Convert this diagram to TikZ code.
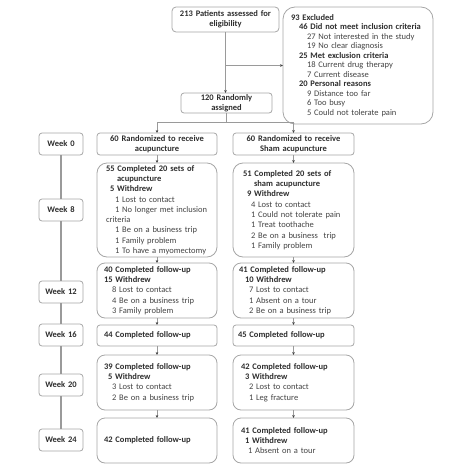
\documentclass[tikz,border=0pt]{standalone}
\usepackage{fontspec}
\setmainfont{Carlito}
\usetikzlibrary{arrows.meta}
\definecolor{bordc}{HTML}{A6A6A6}
\definecolor{linec}{HTML}{9A9A9A}
\definecolor{txtb}{HTML}{2E2E2E}
\definecolor{txtn}{HTML}{444444}
\newcommand{\bl}[1]{{\bfseries\color{txtb}#1}}
\newcommand{\ind}[1]{\hspace*{#1pt}}
\begin{document}
\begin{tikzpicture}[x=1pt,y=-1pt,
  base/.style={draw=bordc, line width=0.8pt, fill=white, inner ysep=1pt, text=txtn,
    font=\fontsize{8.5}{10.3}\selectfont, anchor=north west, outer sep=0pt},
  cbox/.style={base, align=left},
  tbox/.style={base, align=center, font=\fontsize{8.5}{10.3}\selectfont\bfseries, text=txtb, inner xsep=2pt},
  conn/.style={draw=linec, line width=0.8pt},
  arr/.style={conn, -{Stealth[length=3pt,width=2.6pt,color=black!75]}},
  tline/.style={draw=linec, line width=1.1pt}
]
\useasboundingbox (0,0) rectangle (474,474);

% top
\node[tbox, rounded corners=4pt, minimum width=107pt, minimum height=25pt, text width=103pt] (elig) at (172,7) {213 Patients assessed for\\eligibility};
\node[cbox, rounded corners=12pt, minimum width=150pt, minimum height=117pt, text width=136pt, inner xsep=7pt, font=\fontsize{8.5}{9.45}\selectfont] (excl) at (283,7)
{\ind{1}\bl{93 Excluded}\\
\ind{9}\bl{46 Did not meet inclusion criteria}\\
\ind{17}27 Not interested in the study\\
\ind{17}19 No clear diagnosis\\
\ind{9}\bl{25 Met exclusion criteria}\\
\ind{17}18 Current drug therapy\\
\ind{17}7 Current disease\\
\ind{9}\bl{20 Personal reasons}\\
\ind{17}9 Distance too far\\
\ind{17}6 Too busy\\
\ind{17}5 Could not tolerate pain};
\node[tbox, rounded corners=3pt, minimum width=91pt, minimum height=20pt, text width=87pt] (rand) at (181,93) {120 Randomly\\assigned};

% weeks
\foreach \n/\t/\y in {w0/Week 0/133, w8/Week 8/199, w12/Week 12/281, w16/Week 16/324, w20/Week 20/374, w24/Week 24/429}
  \node[tbox, rounded corners=3pt, minimum width=44pt, minimum height=22pt, text width=40pt] (\n) at (39,\y) {\t};

% left column
\node[tbox, rounded corners=3pt, minimum width=120pt, minimum height=22pt, text width=116pt] (l60) at (97,133) {60 Randomized to receive\\acupuncture};
\node[cbox, rounded corners=10pt, minimum width=120pt, minimum height=94pt, text width=110pt, inner xsep=5pt] (l55) at (97,163)
{\ind{4}\bl{55 Completed 20 sets of}\\
\ind{15}\bl{acupuncture}\\
\ind{8}\bl{5 Withdrew}\\
\ind{13}1 Lost to contact\\
\ind{13}1 No longer met inclusion\\
\ind{4}criteria\\
\ind{13}1 Be on a business trip\\
\ind{13}1 Family problem\\
\ind{13}1 To have a myomectomy};
\node[cbox, rounded corners=8pt, minimum width=120pt, minimum height=55pt, text width=110pt, inner xsep=5pt] (l40) at (97,263)
{\ind{2}\bl{40 Completed follow-up}\\
\ind{2}\bl{15 Withdrew}\\
\ind{10}8 Lost to contact\\
\ind{10}4 Be on a business trip\\
\ind{10}3 Family problem};
\node[cbox, rounded corners=3pt, minimum width=120pt, minimum height=21pt, text width=110pt, inner xsep=5pt] (l44) at (97,325)
{\ind{2}\bl{44 Completed follow-up}};
\node[cbox, rounded corners=8pt, minimum width=120pt, minimum height=55pt, text width=110pt, inner xsep=5pt] (l39) at (97,355)
{\ind{2}\bl{39 Completed follow-up}\\
\ind{6}\bl{5 Withdrew}\\
\ind{10}3 Lost to contact\\
\ind{10}2 Be on a business trip};
\node[cbox, rounded corners=8pt, minimum width=120pt, minimum height=45pt, text width=110pt, inner xsep=5pt] (l42) at (97,418)
{\ind{2}\bl{42 Completed follow-up}};

% right column
\node[tbox, rounded corners=3pt, minimum width=121pt, minimum height=22pt, text width=117pt] (r60) at (233,133) {60 Randomized to receive\\Sham acupuncture};
\node[cbox, rounded corners=10pt, minimum width=121pt, minimum height=94pt, text width=111pt, inner xsep=5pt] (r51) at (233,163)
{\ind{5}\bl{51 Completed 20 sets of}\\
\ind{16}\bl{sham acupuncture}\\
\ind{9}\bl{9 Withdrew}\\
\ind{13}4 Lost to contact\\
\ind{13}1 Could not tolerate pain\\
\ind{13}1 Treat toothache\\
\ind{13}2 Be on a business\ \ trip\\
\ind{13}1 Family problem};
\node[cbox, rounded corners=8pt, minimum width=121pt, minimum height=55pt, text width=111pt, inner xsep=5pt] (r41) at (233,263)
{\ind{1}\bl{41 Completed follow-up}\\
\ind{7}\bl{10 Withdrew}\\
\ind{11}7 Lost to contact\\
\ind{11}1 Absent on a tour\\
\ind{11}2 Be on a business trip};
\node[cbox, rounded corners=3pt, minimum width=121pt, minimum height=21pt, text width=111pt, inner xsep=5pt] (r45) at (233,325)
{\bl{45 Completed follow-up}};
\node[cbox, rounded corners=8pt, minimum width=121pt, minimum height=55pt, text width=111pt, inner xsep=5pt] (r42) at (233,355)
{\ind{3}\bl{42 Completed follow-up}\\
\ind{7}\bl{3 Withdrew}\\
\ind{11}2 Lost to contact\\
\ind{11}1 Leg fracture};
\node[cbox, rounded corners=8pt, minimum width=121pt, minimum height=45pt, text width=111pt, inner xsep=5pt] (r41b) at (233,418)
{\ind{3}\bl{41 Completed follow-up}\\
\ind{7}\bl{1 Withdrew}\\
\ind{10}1 Absent on a tour};

% connectors
\draw[arr] (elig.south) -- (elig.south |- rand.north);
\coordinate (bx) at (elig.south |- excl.west);
\draw[arr] (bx) -- (excl.west);
\coordinate (sp) at (rand.south |- 0,122);
\coordinate (spl) at (l60.north |- sp);
\coordinate (spr) at (r60.north |- sp);
\draw[conn] (rand.south) -- (sp);
\draw[conn] (spl) -- (spr);
\draw[arr] (spl) -- (l60.north);
\draw[arr] (spr) -- (r60.north);
\foreach \a/\b in {l60/l55, l55/l40, l40/l44, l44/l39, l39/l42, r60/r51, r51/r41, r41/r45, r45/r42, r42/r41b}
  \draw[arr] (\a.south) -- (\b.north);
\foreach \a/\b in {w0/w8, w8/w12, w12/w16, w16/w20, w20/w24}
  \draw[tline] (\a.south) -- (\b.north);
\end{tikzpicture}
\end{document}
